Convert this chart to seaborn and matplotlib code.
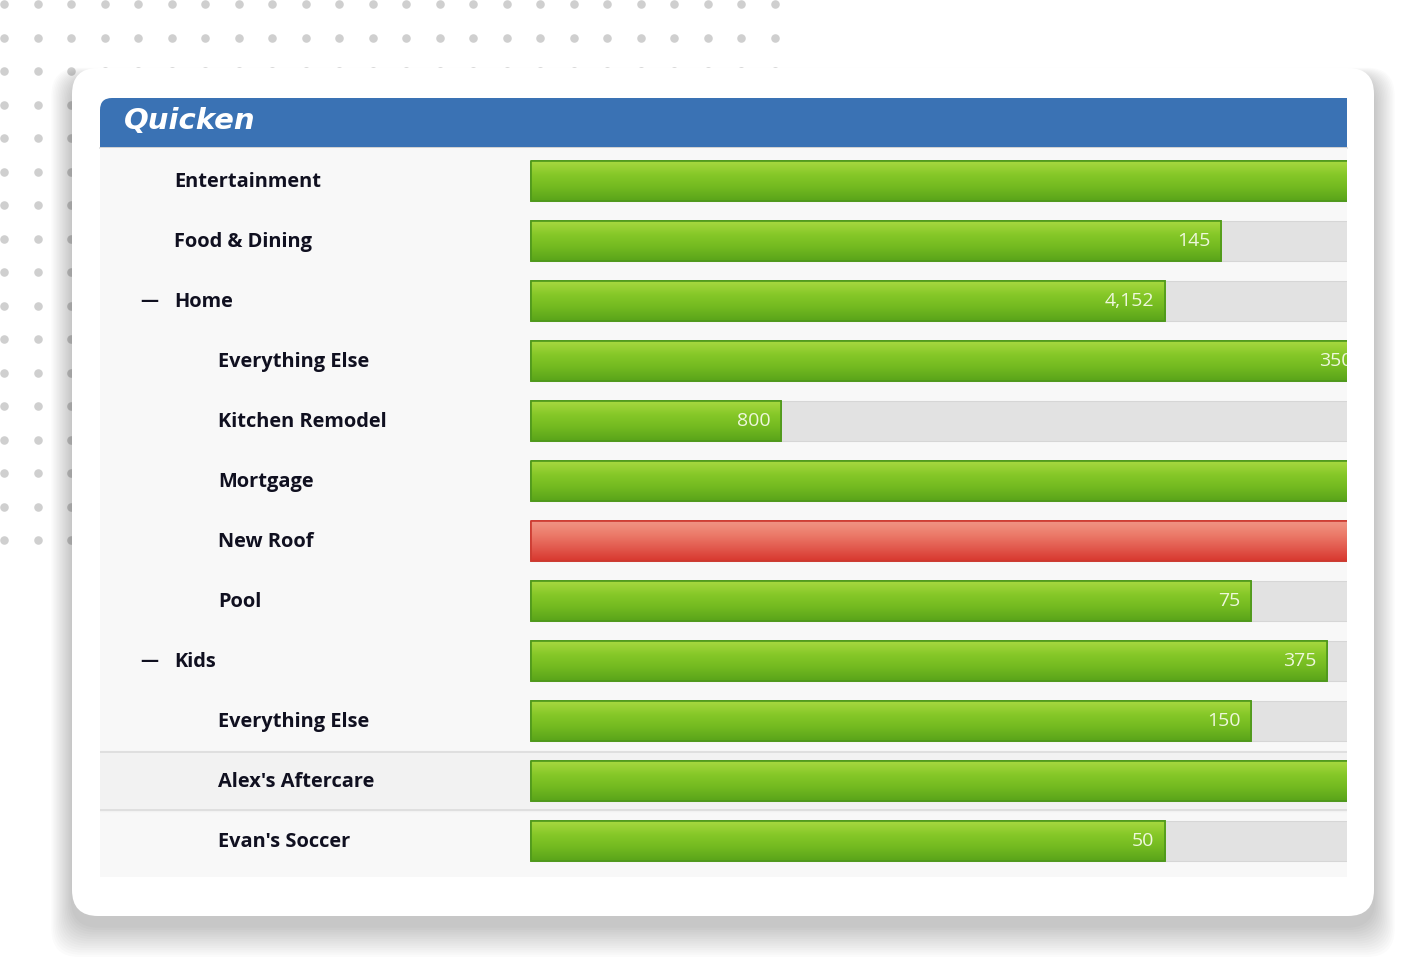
import numpy as np
import pandas as pd
import seaborn as sns
import matplotlib.pyplot as plt
from matplotlib.patches import FancyBboxPatch, Rectangle
from matplotlib.colors import LinearSegmentedColormap

# Datos del presupuesto (fraccion gastada del presupuesto de cada categoria)
categories = ["Entertainment", "Food & Dining", "Home", "Everything Else",
              "Kitchen Remodel", "Mortgage", "New Roof", "Pool", "Kids",
              "Everything Else", "Alex's Aftercare", "Evan's Soccer"]
levels = [0, 0, 0, 1, 1, 1, 1, 1, 0, 1, 1, 1]
expanded = [False, False, True, False, False, False, False, False, True,
            False, False, False]
spent = [1.20, 0.846, 0.777, 1.02, 0.306, 1.20, 1.20, 0.882, 0.975, 0.882,
         1.20, 0.777]
amount_labels = ["", "145", "4,152", "350", "800", "", "", "75", "375",
                 "150", "", "50"]
status = ["ok", "ok", "ok", "ok", "ok", "ok", "over", "ok", "ok", "ok",
          "ok", "ok"]
track = [1.3] * len(categories)

df = pd.DataFrame({"row": range(len(categories)), "spent": spent,
                   "track": track, "status": status})

sns.set_style("white")
plt.rcParams["font.family"] = ["Open Sans", "DejaVu Sans"]

W, H = 1416, 968
fig = plt.figure(figsize=(W / 100, H / 100), dpi=100)

# fondo: puntos, tarjeta y cabecera (coordenadas en pixeles)
bg = fig.add_axes([0, 0, 1, 1])
bg.set_xlim(0, W)
bg.set_ylim(H, 0)
bg.axis("off")

gx, gy = np.meshgrid(4 + 33.5 * np.arange(24), 4 + 33.5 * np.arange(17))
bg.scatter(gx.ravel(), gy.ravel(), s=38, color="#cfcfcf", linewidths=0, zorder=1)

# sombra de la tarjeta
for k in range(14):
    g = 2 + k * 2.5
    bg.add_patch(FancyBboxPatch((72 - g * 0.6, 68 + 10 - g * 0.3), 1302 + g * 1.2,
                                848 + g * 1.2, boxstyle="round,pad=0,rounding_size=28",
                                fc="#000000", ec="none", alpha=0.014, zorder=2))
bg.add_patch(FancyBboxPatch((72, 68), 1302, 848,
                            boxstyle="round,pad=0,rounding_size=26",
                            fc="white", ec="none", zorder=3))

# cabecera azul (solo la esquina superior izquierda redondeada)
blue = "#3a72b4"
bg.add_patch(FancyBboxPatch((100, 98), 1247, 49,
                            boxstyle="round,pad=0,rounding_size=12",
                            fc=blue, ec="none", zorder=4))
bg.add_patch(Rectangle((100, 120), 1247, 27, fc=blue, ec="none", zorder=4))
bg.add_patch(Rectangle((700, 98), 647, 49, fc=blue, ec="none", zorder=4))
bg.plot([100, 1347], [147.5, 147.5], color="#c9c9c9", lw=1.2, zorder=5)
bg.text(124, 121, "Quicken", color="white", fontsize=21, fontweight="heavy",
        fontstyle="italic", family="DejaVu Sans", va="center", ha="left", zorder=6)

# panel con las barras
x0, x1 = 531, 1347
top, bottom = 148, 877
ax = fig.add_axes([100 / W, (H - bottom) / H, (x1 - 100) / W, (bottom - top) / H])
ax.set_facecolor("#f8f8f8")

sns.barplot(data=df, x="track", y="row", orient="y", color="#e2e2e2",
            width=0.66, saturation=1, ax=ax, edgecolor="#d6d6d6", linewidth=0.8)
sns.barplot(data=df, x="spent", y="row", hue="status", orient="y",
            palette={"ok": "#6cb420", "over": "#e25045"}, dodge=False,
            width=0.66, saturation=1, legend=False, ax=ax, linewidth=1.2)

scale = x1 - x0
xlim = (-(x0 - 100) / scale, 1.0)
ylim = ((bottom - 181) / 60, (top - 181) / 60)

cmaps = {
    "ok": LinearSegmentedColormap.from_list("g", ["#a8d840", "#86c828", "#72b920", "#5aa41a"]),
    "over": LinearSegmentedColormap.from_list("r", ["#f09484", "#ec7b6a", "#e25a4e", "#d8382f"]),
}
edges = {"ok": "#4e981a", "over": "#cc3a30"}
grad = np.linspace(0, 1, 64).reshape(-1, 1)
for cont in ax.containers[1:]:
    for p in cont:
        w = p.get_width()
        if not np.isfinite(w) or w <= 0:
            continue
        row = int(round(p.get_y() + p.get_height() / 2))
        st = status[row]
        p.set_edgecolor(edges[st])
        bx, by, bh = p.get_x(), p.get_y(), p.get_height()
        im = ax.imshow(grad, extent=[bx, bx + w, by + bh, by], aspect="auto",
                       cmap=cmaps[st], origin="upper", zorder=p.get_zorder() + 0.1,
                       interpolation="bilinear")
        im.set_clip_path(p)
        im.set_clip_box(ax.bbox)
        ax.add_patch(Rectangle((bx, by), w, bh, fc="none", ec=edges[st],
                               lw=1.2, zorder=p.get_zorder() + 0.2))

# fila resaltada de Alex's Aftercare
ax.axhspan(9.5, 10.5, xmin=0, xmax=1, color="#f2f2f2", zorder=0)
for yy in (9.52, 10.48):
    ax.axhline(yy, color="#dedede", lw=1.3, zorder=0.5)

ax.set_xlim(*xlim)
ax.set_ylim(*ylim)
ax.set_xlabel("")
ax.set_ylabel("")
ax.set_xticks([])
ax.set_yticks([])
sns.despine(ax=ax, left=True, bottom=True)

# nombres de categorias
for i, name in enumerate(categories):
    xl = (174 - x0) / scale if levels[i] == 0 else (218 - x0) / scale
    ax.text(xl, i + 0.02, name, fontsize=14.4, fontweight="bold", color="#101020",
            va="center", ha="left", zorder=6)
    if expanded[i]:
        ax.text((140 - x0) / scale, i, "\u2014", fontsize=13, fontweight="bold",
                color="#101020", va="center", ha="left", zorder=6)

# montos dentro de las barras
for i, lab in enumerate(amount_labels):
    if lab:
        ax.annotate(lab, (spent[i], i), xytext=(-7.5, 0), textcoords="offset points",
                    ha="right", va="center", fontsize=14, color="#eef7dc",
                    annotation_clip=False, clip_on=True, zorder=7)

fig.savefig("out.png", dpi=100, facecolor="white")
